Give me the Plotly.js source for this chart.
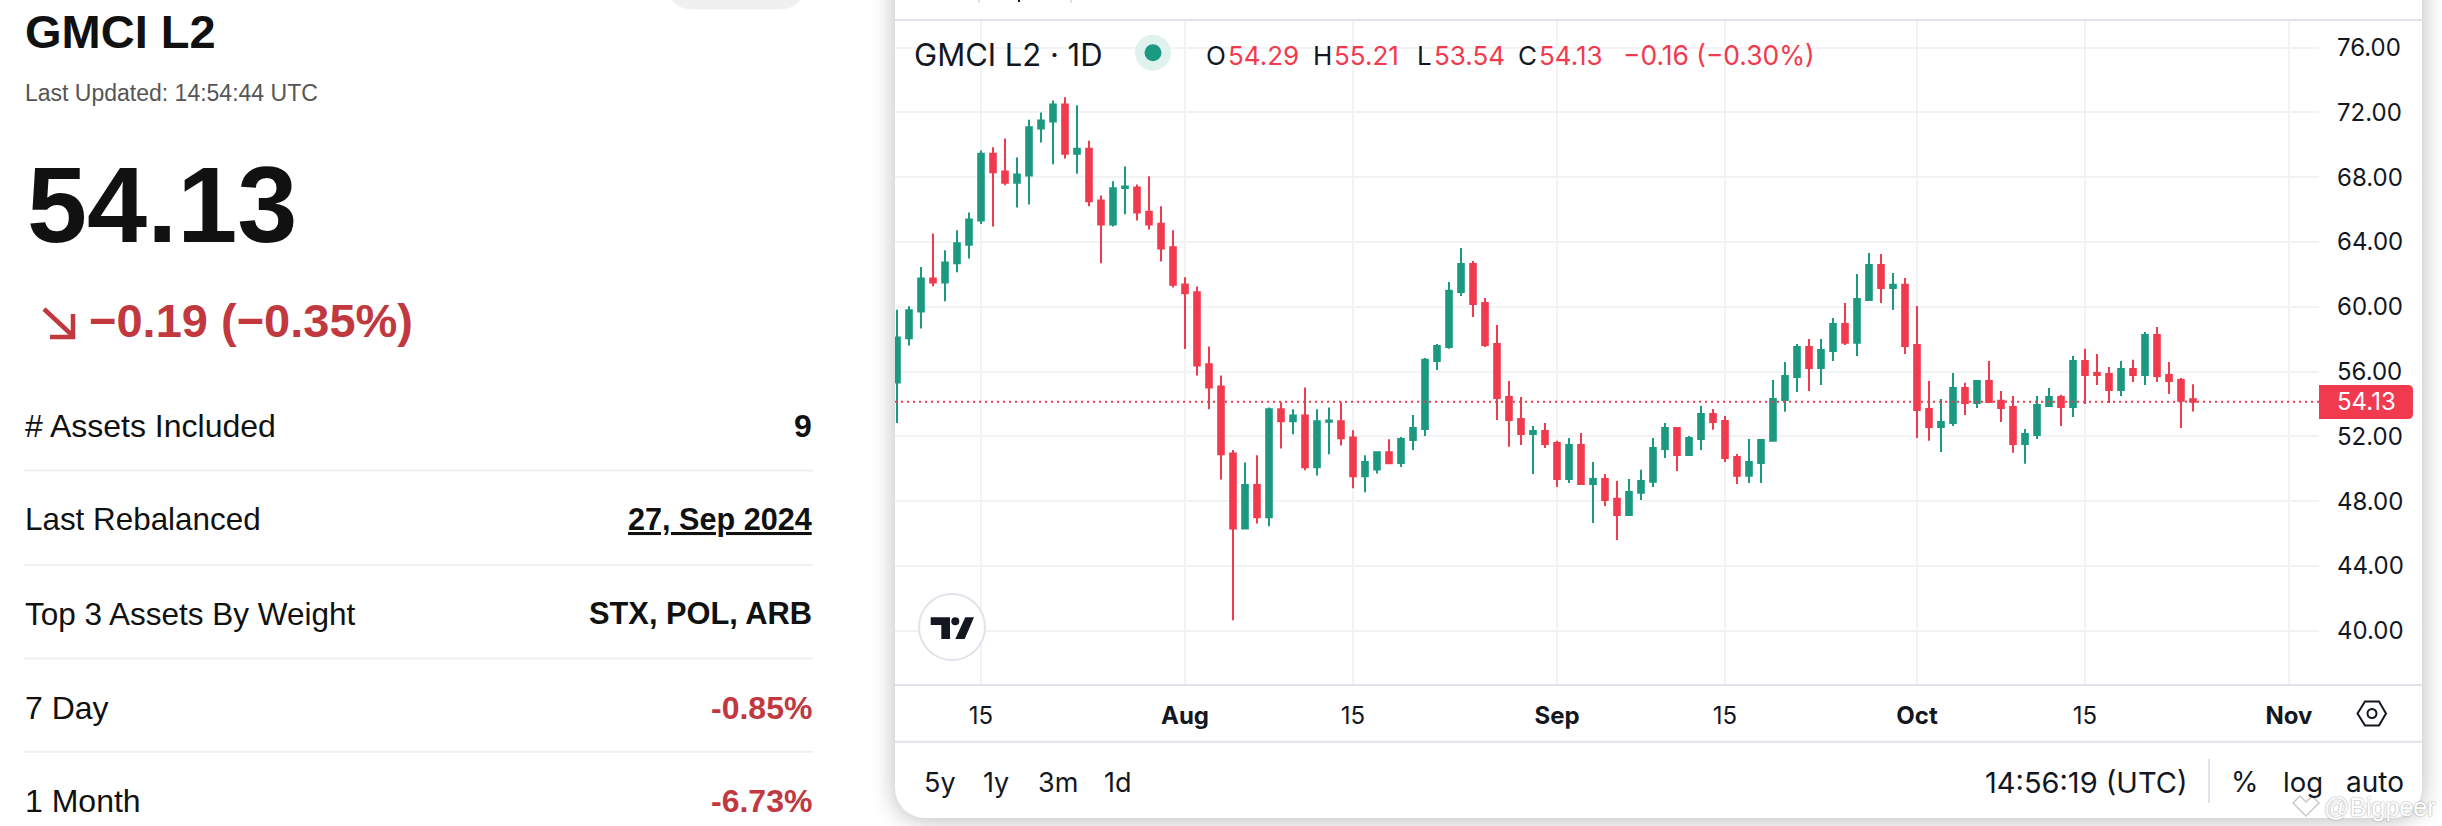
<!DOCTYPE html>
<html><head><meta charset="utf-8">
<script src="https://cdn.plot.ly/plotly-3.0.1.min.js"></script>
<style>
html,body{margin:0;padding:0;width:2442px;height:826px;overflow:hidden;background:#fff}
#card{position:absolute;left:895px;top:-60px;width:1527px;height:878px;background:#fff;border-radius:0 0 30px 30px;box-shadow:0 2px 24px rgba(0,0,0,.28)}
#chart{position:absolute;left:0;top:0;width:2442px;height:826px}
</style></head><body>
<div id="card"></div><div id="chart"></div>
<script>
const dates=["2024-07-08","2024-07-09","2024-07-10","2024-07-11","2024-07-12","2024-07-13","2024-07-14","2024-07-15","2024-07-16","2024-07-17","2024-07-18","2024-07-19","2024-07-20","2024-07-21","2024-07-22","2024-07-23","2024-07-24","2024-07-25","2024-07-26","2024-07-27","2024-07-28","2024-07-29","2024-07-30","2024-07-31","2024-08-01","2024-08-02","2024-08-03","2024-08-04","2024-08-05","2024-08-06","2024-08-07","2024-08-08","2024-08-09","2024-08-10","2024-08-11","2024-08-12","2024-08-13","2024-08-14","2024-08-15","2024-08-16","2024-08-17","2024-08-18","2024-08-19","2024-08-20","2024-08-21","2024-08-22","2024-08-23","2024-08-24","2024-08-25","2024-08-26","2024-08-27","2024-08-28","2024-08-29","2024-08-30","2024-08-31","2024-09-01","2024-09-02","2024-09-03","2024-09-04","2024-09-05","2024-09-06","2024-09-07","2024-09-08","2024-09-09","2024-09-10","2024-09-11","2024-09-12","2024-09-13","2024-09-14","2024-09-15","2024-09-16","2024-09-17","2024-09-18","2024-09-19","2024-09-20","2024-09-21","2024-09-22","2024-09-23","2024-09-24","2024-09-25","2024-09-26","2024-09-27","2024-09-28","2024-09-29","2024-09-30","2024-10-01","2024-10-02","2024-10-03","2024-10-04","2024-10-05","2024-10-06","2024-10-07","2024-10-08","2024-10-09","2024-10-10","2024-10-11","2024-10-12","2024-10-13","2024-10-14","2024-10-15","2024-10-16","2024-10-17","2024-10-18","2024-10-19","2024-10-20","2024-10-21","2024-10-22","2024-10-23","2024-10-24"];
const opens=[55.32,58.05,59.70,61.74,61.49,62.68,63.83,65.32,69.45,68.35,67.66,68.10,71.00,71.44,72.48,69.45,69.76,66.56,65.07,67.33,67.36,65.87,65.13,63.67,61.38,60.89,56.45,55.07,50.94,46.31,48.99,47.00,53.67,52.93,53.28,50.09,52.90,52.93,51.93,49.54,49.95,51.02,50.36,51.78,52.46,56.65,57.52,60.91,62.64,60.23,57.70,54.43,53.07,52.15,52.33,51.59,49.37,51.47,49.06,49.37,48.14,47.15,48.51,49.19,51.22,52.52,50.85,51.84,53.38,52.95,50.73,49.56,50.36,51.72,54.25,55.67,57.52,56.22,57.27,58.94,57.77,60.42,62.58,61.16,61.35,57.64,53.69,52.58,52.83,54.99,54.06,55.42,54.19,53.81,51.53,52.09,53.88,54.43,53.81,56.65,55.91,55.85,54.86,56.16,55.79,58.26,55.79,55.48,54.29];
const highs=[59.81,60.03,62.46,64.52,63.48,64.72,65.82,69.65,69.84,70.39,69.21,71.55,71.99,72.73,72.93,72.43,70.25,66.87,67.75,68.66,67.55,68.05,66.20,64.72,61.82,61.25,57.55,55.76,51.16,50.39,50.83,53.78,54.11,53.67,55.02,53.67,53.78,54.11,52.37,50.83,51.08,51.82,51.96,53.32,56.84,57.70,61.53,63.63,62.83,60.54,58.88,55.42,54.43,52.64,52.83,51.72,51.90,52.21,50.42,49.68,49.25,49.37,49.93,51.90,52.83,52.58,52.02,53.88,53.69,53.26,50.91,51.84,51.84,55.48,56.59,57.70,58.01,58.01,59.31,60.23,62.02,63.32,63.26,62.09,61.78,60.05,55.42,54.31,55.91,55.30,55.42,56.65,54.80,54.49,52.46,54.49,54.99,54.56,56.96,57.40,57.09,56.28,56.65,56.72,58.44,58.75,56.59,55.60,55.21];
const lows=[52.82,57.61,58.66,61.27,60.34,62.13,62.98,65.10,64.96,67.50,66.12,66.31,70.14,68.79,69.15,68.21,66.20,62.68,64.96,65.71,65.32,64.77,62.79,61.19,57.39,55.76,53.67,49.34,40.64,46.31,46.62,46.45,51.25,52.13,49.90,49.59,50.89,51.44,48.79,48.55,49.70,50.34,50.11,51.16,52.02,56.10,57.40,60.67,59.37,57.52,53.01,51.35,51.47,49.68,51.28,48.88,49.12,49.06,46.65,47.70,45.60,47.15,48.07,48.88,50.67,49.86,50.85,51.16,52.40,50.42,49.06,49.12,49.12,51.72,53.51,54.74,54.80,55.17,56.65,57.64,56.96,60.36,60.23,59.80,57.09,51.90,51.72,51.04,52.64,53.32,53.75,54.06,52.89,50.98,50.30,51.84,53.81,52.64,53.20,54.00,55.17,54.06,54.49,55.36,55.17,55.36,54.62,52.52,53.54];
const closes=[58.10,59.79,61.74,61.49,62.73,63.92,65.38,69.45,68.30,67.66,68.16,71.08,71.49,72.48,69.45,69.76,66.51,65.07,67.31,67.42,65.82,65.07,63.59,61.36,60.83,56.37,55.02,50.89,46.31,48.99,47.00,53.67,52.93,53.28,50.09,52.93,52.98,51.88,49.54,50.42,51.02,50.34,51.84,52.52,56.72,57.58,60.98,62.64,60.17,57.64,54.37,53.01,52.15,52.33,51.53,49.37,51.47,49.06,49.37,48.07,47.15,48.57,49.25,51.28,52.52,50.85,51.90,53.38,52.89,50.67,49.56,50.42,51.78,54.31,55.73,57.52,56.22,57.33,58.94,57.77,60.48,62.58,61.16,61.35,57.58,53.63,52.58,52.89,54.99,54.06,55.42,54.12,53.75,51.53,52.15,53.94,54.43,53.81,56.65,55.79,55.79,54.86,56.16,55.79,58.26,55.73,55.42,54.19,54.13];
const yTicks=[40,44,48,52,56,60,64,68,72,76];
const yTickLabels=["40.00","44.00","48.00","52.00","56.00","60.00","64.00","68.00","72.00","76.00"];
const xTicks=["2024-07-15","2024-08-01","2024-08-15","2024-09-01","2024-09-15","2024-10-01","2024-10-15","2024-11-01"];
const xTickLabels=["15","<b>Aug</b>","15","<b>Sep</b>","15","<b>Oct</b>","15","<b>Nov</b>"];
const lastClose=54.13;
const statRows=[["# Assets Included","9"],["Last Rebalanced","27, Sep 2024"],["Top 3 Assets By Weight","STX, POL, ARB"],["7 Day","-0.85%"],["1 Month","-6.73%"]];

const W=2442,H=826,UP="#1b9a81",DN="#f23a4e",INK="#131722",RULE="#e0e3eb",PANEL="#c1393f";
const TV="Inter, sans-serif",LS='"Liberation Sans", Arial, sans-serif';
const px=x=>x/W,py=y=>1-y/H;
const ann=(text,x,y,size,color,o={})=>Object.assign({text,x:px(x),y:py(y),xref:"paper",yref:"paper",showarrow:false,xanchor:"left",yanchor:"middle",borderpad:0,font:Object.assign({family:TV,size,color},o.font||{})},o.a||{});
const path=(pts,close)=>pts.map((p,i)=>(i?"L":"M")+px(p[0])+","+py(p[1])).join(" ")+(close?" Z":"");
const line=(x0,y0,x1,y1,color,width=2,layer="above")=>({type:"line",xref:"paper",yref:"paper",x0:px(x0),y0:py(y0),x1:px(x1),y1:py(y1),line:{color,width},layer});
const poly=(pts,fill)=>({type:"path",xref:"paper",yref:"paper",path:path(pts,true),fillcolor:fill,line:{width:0},layer:"above"});
const circle=(cx,cy,r,fill,stroke,w=0)=>({type:"circle",xref:"paper",yref:"paper",x0:px(cx-r),x1:px(cx+r),y0:py(cy+r),y1:py(cy-r),fillcolor:fill,line:{color:stroke||fill,width:w},layer:"above"});

const rowY=[425.7,519.5,613.8,707.6,800.8];
const rowLines=[470.5,565,658.6,751.8];
const rowLabelSize=[32,31.4,31.5,32,32];
const rowValueSize=[32,30.6,30.8,32,32];
const annotations=[
 ann("GMCI L2",24,31.6,47,"#111",{font:{family:LS,weight:700}}),
 ann("Last Updated: 14:54:44 UTC",24,93,23,"#555",{font:{family:LS}}),
 ann("54.13",26,204,108,"#111",{font:{family:LS,weight:700}}),
 ann("−0.19 (−0.35%)",88,321,47,PANEL,{font:{family:LS,weight:700}}),
 ann("GMCI L2 · 1D",913,54,31,INK),
 ann("O",1205,55,26,INK),ann("54.29",1227,55,26,DN),
 ann("H",1312,55,26,INK),ann("55.21",1333,55,26,DN),
 ann("L",1416,55,26,INK),ann("53.54",1433,55,26,DN),
 ann("C",1517,55,26,INK),ann("54.13",1538,55,26,DN),
 ann("−0.16 (−0.30%)",1622,55,26.4,DN),
 ann("5y",923,782,27,INK),ann("1y",982,782,27,INK),ann("3m",1037,782,27,INK),ann("1d",1103,782,27,INK),
 ann("14:56:19 (UTC)",1984,782,29,INK),
 ann("%",2230,782,28,INK),ann("log",2282,782,27.5,INK),ann("auto",2345,782,28,INK),
 ann("@Bigpeer",2323,807,25,"#ffffff",{font:{family:LS,shadow:"0 0 2px #8a8a8a"}}),
 {text:String(lastClose.toFixed(2)),x:px(2336),y:lastClose,xref:"paper",yref:"y",showarrow:false,xanchor:"left",yanchor:"middle",borderpad:0,font:{family:TV,size:24,color:"#fff"}}
];
statRows.forEach((r,i)=>{
 annotations.push(ann(r[0],24,rowY[i],rowLabelSize[i],"#111",{font:{family:LS}}));
 const red=i>=3;
 const f={family:LS,weight:700};
 if(i===1)f.lineposition="under";
 annotations.push(ann(r[1],813,rowY[i],rowValueSize[i],red?PANEL:"#111",{font:f,a:{xanchor:"right"}}));
});

const shapes=[
 {type:"rect",xref:"paper",yref:"paper",x0:px(905),x1:px(1825),y0:py(72),y1:py(36),fillcolor:"rgba(255,255,255,.8)",line:{width:0},layer:"below"},
 {type:"path",xref:"paper",yref:"paper",path:`M${px(672)},${py(-1)} L${px(672)},${py(0)} Q${px(678)},${py(9.5)} ${px(695)},${py(9.5)} L${px(777)},${py(9.5)} Q${px(794)},${py(9.5)} ${px(800)},${py(0)} Z`,fillcolor:"#f0f0f0",line:{width:0}},
 ...rowLines.map(y=>line(24,y,813,y,"#f0f0f0")),
 line(895,20,2422,20,RULE),line(895,685,2422,685,RULE),line(895,741.7,2422,741.7,RULE),
 line(2209,759,2209,803,RULE),
 line(979,0,979,3,RULE),line(1071,0,1071,3,RULE),line(1019,0,1019,2,INK),
 {type:"line",xref:"paper",yref:"y",x0:px(895),x1:px(2319),y0:lastClose,y1:lastClose,line:{color:DN,width:2,dash:"2px,4px"},layer:"above"},
 {type:"path",xref:"paper",yref:"paper",path:`M${px(2319)},${py(385)} L${px(2408)},${py(385)} Q${px(2413)},${py(385)} ${px(2413)},${py(390)} L${px(2413)},${py(414)} Q${px(2413)},${py(419)} ${px(2408)},${py(419)} L${px(2319)},${py(419)} Z`,fillcolor:DN,line:{width:0},layer:"below"},
 // arrow
 {type:"path",xref:"paper",yref:"paper",path:path([[44,309],[73,336]]),line:{color:PANEL,width:4.5},layer:"above"},
 {type:"path",xref:"paper",yref:"paper",path:path([[73,314],[73,337],[50,337]]),line:{color:PANEL,width:4.5},layer:"above"},
 // live dot
 circle(1153,52.7,18,"#e0f2ee"),circle(1153,52.7,8.5,UP),
 // TradingView badge
 circle(952,627,33,"#fff",RULE,2),
 poly([[930.7,617.3],[950,617.3],[950,639],[941.3,639],[941.3,625],[930.7,625]],INK),
 circle(955.3,621.3,4,INK),
 poly([[965.3,617.3],[974,617.3],[964.7,639],[955.3,639]],INK),
 // settings hexagon
 {type:"path",xref:"paper",yref:"paper",path:path([[2357.5,713.5],[2365,701.5],[2379,701.5],[2386,713.5],[2379,725.5],[2365,725.5]],true),line:{color:INK,width:2},fillcolor:"rgba(0,0,0,0)",layer:"above"},
 circle(2372,713.5,4.5,"#fff",INK,2),
 // watermark diamonds
 {type:"path",xref:"paper",yref:"paper",path:path([[2293,803],[2306,816],[2319,803],[2312,796],[2306,802],[2300,796]],true),line:{color:"#c8c8c8",width:1.5},fillcolor:"rgba(255,255,255,.6)",layer:"above"}
];

const trace={type:"candlestick",x:dates,open:opens,high:highs,low:lows,close:closes,
 increasing:{line:{color:UP,width:2},fillcolor:UP},decreasing:{line:{color:DN,width:2},fillcolor:DN},whiskerwidth:0,hoverinfo:"skip"};

const layout={width:W,height:H,autosize:false,margin:{l:0,r:0,t:0,b:0,pad:0},paper_bgcolor:"rgba(0,0,0,0)",plot_bgcolor:"rgba(0,0,0,0)",showlegend:false,boxgap:0.3333,
 xaxis:{type:"date",domain:[px(895),px(2319)],range:["2024-07-07 20:00","2024-11-03 12:00"],autorange:false,rangeslider:{visible:false},tickmode:"array",tickvals:xTicks,ticktext:xTickLabels,tickangle:0,showgrid:true,gridcolor:"#f2f3f5",gridwidth:2,zeroline:false,showline:false,ticks:"",ticklabelstandoff:14,tickfont:{family:TV,size:24,color:INK}},
 yaxis:{domain:[py(685),py(20)],range:[36.65,77.7],autorange:false,side:"right",tickmode:"array",tickvals:yTicks,ticktext:yTickLabels,showgrid:true,gridcolor:"#f2f3f5",gridwidth:2,zeroline:false,showline:false,ticks:"",ticklabelstandoff:17,tickfont:{family:TV,size:24,color:INK}},
 shapes,annotations};
Plotly.newPlot("chart",[trace],layout,{staticPlot:true,displayModeBar:false});
</script></body></html>
